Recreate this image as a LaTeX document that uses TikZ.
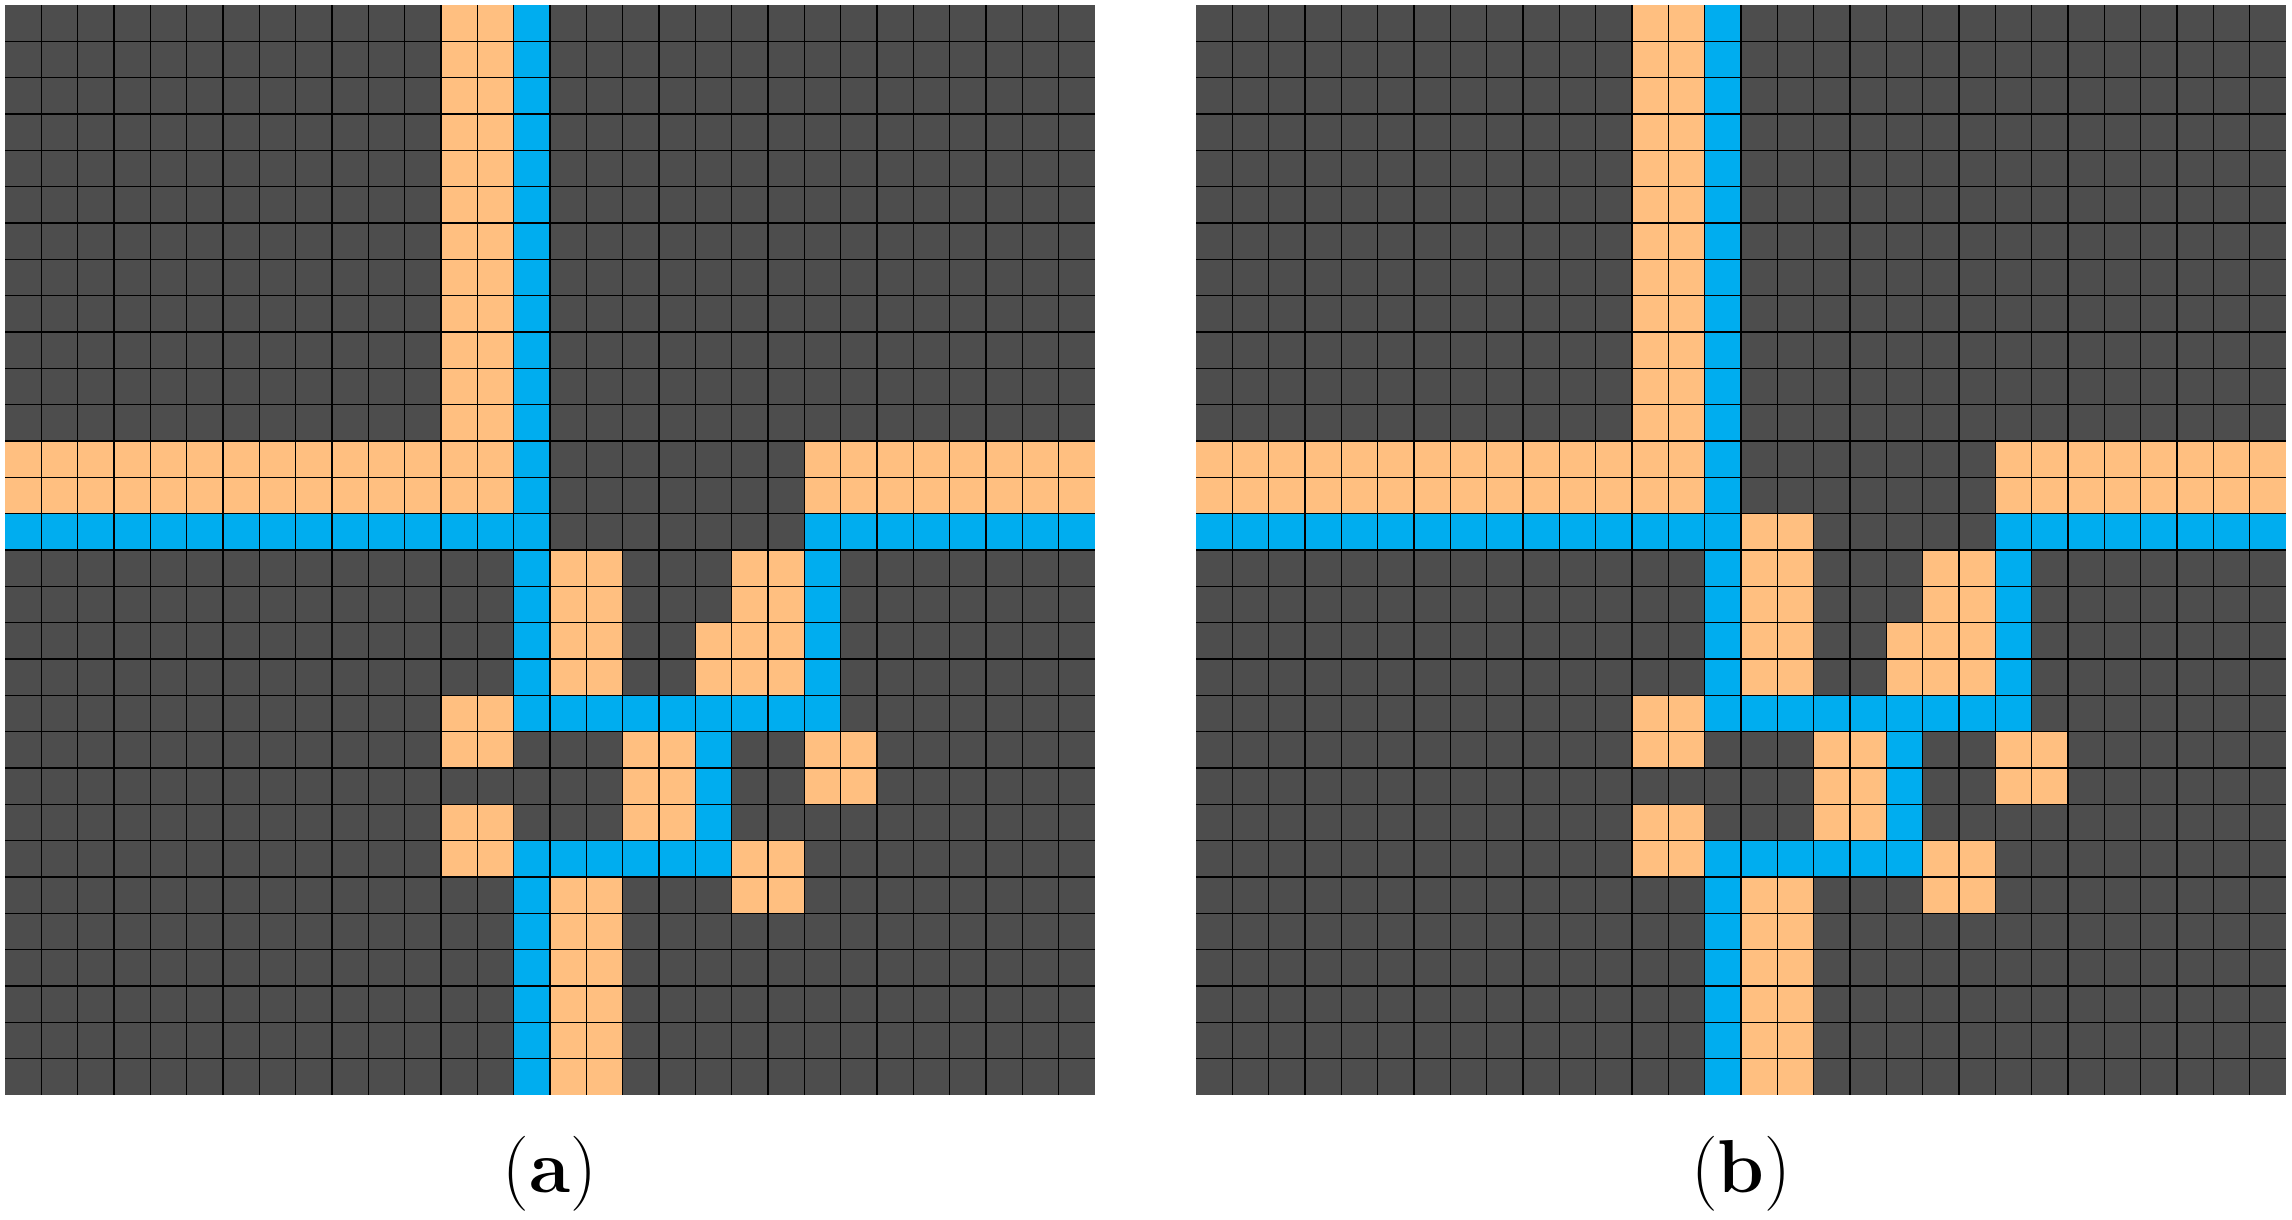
\documentclass[tikz,border=0pt]{standalone}
\definecolor{cellgray}{HTML}{4D4D4D}
\definecolor{cellorange}{HTML}{FFBF80}
\definecolor{cellblue}{HTML}{00ADEF}
\newcommand\cs{36.3333}
% fill a block of cells: color, c1, r1, c2, r2
\newcommand\cellblock[5]{\fill[#1] ({#2*\cs},{#3*\cs}) rectangle ({(#4+1)*\cs},{(#5+1)*\cs});}
\tikzset{
  gridline/.style={black, line width=1.3pt},
  panellabel/.style={font=\fontsize{75}{90}\selectfont, inner sep=0pt},
  basepanel/.pic={
    \fill[cellgray] (0,0) rectangle (1090,1090);
    % orange cells
    \cellblock{cellorange}{12}{0}{13}{13}
    \cellblock{cellorange}{0}{12}{13}{13}
    \cellblock{cellorange}{22}{12}{29}{13}
    \cellblock{cellorange}{15}{15}{16}{18}
    \cellblock{cellorange}{20}{15}{21}{16}
    \cellblock{cellorange}{19}{17}{21}{18}
    \cellblock{cellorange}{12}{19}{13}{20}
    \cellblock{cellorange}{17}{20}{18}{22}
    \cellblock{cellorange}{22}{20}{23}{21}
    \cellblock{cellorange}{12}{22}{13}{23}
    \cellblock{cellorange}{20}{23}{21}{24}
    \cellblock{cellorange}{15}{24}{16}{29}
    % blue cells
    \cellblock{cellblue}{14}{0}{14}{19}
    \cellblock{cellblue}{0}{14}{14}{14}
    \cellblock{cellblue}{22}{14}{29}{14}
    \cellblock{cellblue}{22}{14}{22}{19}
    \cellblock{cellblue}{14}{19}{22}{19}
    \cellblock{cellblue}{19}{19}{19}{23}
    \cellblock{cellblue}{14}{23}{19}{23}
    \cellblock{cellblue}{14}{23}{14}{29}
  },
  gridlines/.pic={
    \foreach \i in {1,...,29}{
      \draw[gridline] ({\i*\cs},0) -- ({\i*\cs},1090);
      \draw[gridline] (0,{\i*\cs}) -- (1090,{\i*\cs});
    }
  }
}
\begin{document}
\begin{tikzpicture}[x=1pt,y=-1pt]
\useasboundingbox (0,0) rectangle (2292,1219);
% panel (a)
\begin{scope}[shift={(5,5)}]
  \pic {basepanel};
  \pic {gridlines};
\end{scope}
% panel (b)
\begin{scope}[shift={(1196,5)}]
  \pic {basepanel};
  \cellblock{cellorange}{15}{14}{16}{14}
  \pic {gridlines};
\end{scope}
\node[panellabel] (la) at (550,1174) {(\textbf{a})};
\node[panellabel] (lb) at (1741,1174) {(\textbf{b})};
\end{tikzpicture}
\end{document}
